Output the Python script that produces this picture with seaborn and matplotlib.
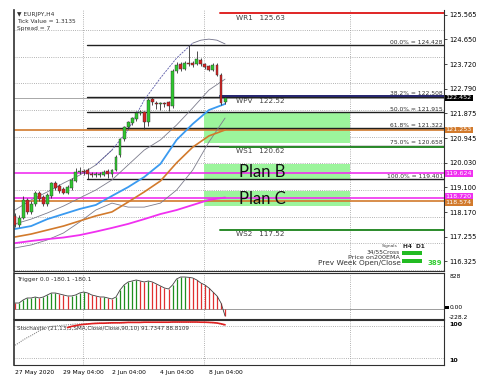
import numpy as np
import pandas as pd
import matplotlib
matplotlib.use("Agg")
import matplotlib.pyplot as plt
import matplotlib.transforms as mtrans
from matplotlib.patches import Rectangle
import seaborn as sns

# ---------------- data ----------------
bar_open = [118.04, 117.70, 117.96, 118.64, 118.19, 118.49, 118.90, 118.75, 118.49, 118.78,
            119.27, 119.16, 119.04, 118.90, 119.08, 119.34, 119.68, 119.72, 119.75, 119.60,
            119.57, 119.57, 119.57, 119.72, 119.60, 119.75, 120.31, 120.91, 121.35, 121.50,
            121.65, 121.88, 121.91, 121.54, 122.40, 122.25, 122.21, 122.25, 122.29, 122.14,
            123.48, 123.74, 123.55, 123.78, 123.78, 123.74, 123.89, 123.74, 123.66, 123.52,
            123.70, 123.33, 122.29]
bar_close = [117.70, 117.96, 118.64, 118.19, 118.49, 118.90, 118.67, 118.49, 118.82, 119.27,
             119.08, 118.97, 118.90, 119.12, 119.38, 119.68, 119.72, 119.68, 119.60, 119.57,
             119.58, 119.60, 119.68, 119.60, 119.75, 120.24, 120.91, 121.35, 121.54, 121.69,
             121.88, 121.91, 121.54, 122.36, 122.29, 122.21, 122.25, 122.21, 122.14, 123.48,
             123.70, 123.55, 123.78, 123.74, 123.70, 123.93, 123.74, 123.63, 123.52, 123.70,
             123.33, 122.25, 122.452]
bar_high = [118.15, 118.05, 118.78, 118.72, 118.58, 118.98, 118.96, 118.80, 118.88, 119.32,
            119.35, 119.24, 119.10, 119.18, 119.45, 119.82, 119.85, 119.80, 119.82, 119.68,
            119.66, 119.68, 119.74, 119.78, 119.80, 120.30, 120.95, 121.40, 121.60, 121.75,
            121.95, 122.00, 121.98, 122.45, 122.50, 122.35, 122.32, 122.30, 122.35, 123.55,
            123.80, 123.82, 123.85, 124.428, 123.85, 124.22, 123.95, 123.78, 123.70, 123.76,
            123.75, 123.40, 122.52]
bar_low = [117.62, 117.62, 117.92, 118.10, 118.12, 118.42, 118.60, 118.40, 118.42, 118.72,
           119.00, 118.90, 118.84, 118.85, 119.02, 119.30, 119.60, 119.55, 119.401, 119.48,
           119.50, 119.50, 119.52, 119.45, 119.50, 119.70, 120.25, 120.85, 121.30, 121.45,
           121.60, 121.80, 121.30, 121.40, 122.20, 122.05, 122.00, 122.10, 121.95, 122.06,
           123.40, 123.48, 123.50, 123.65, 123.60, 123.70, 123.65, 123.55, 123.45, 123.48,
           123.28, 122.20, 122.22]

ind_bars = [0, 4, 8, 12, 16, 20, 24, 28, 32, 36, 40, 44, 48, 52]
ema_blue = [117.54, 117.65, 117.91, 118.10, 118.29, 118.44, 118.78, 119.11, 119.49, 119.98,
            120.88, 121.48, 122.00, 122.23]
ema_orange = [117.24, 117.35, 117.50, 117.65, 117.84, 118.03, 118.18, 118.55, 118.93, 119.34,
              120.02, 120.61, 121.03, 121.253]
ema_magenta = [117.01, 117.09, 117.16, 117.22, 117.31, 117.44, 117.58, 117.73, 117.91, 118.10,
               118.25, 118.44, 118.63, 118.720]
bb_mid = [117.73, 117.91, 118.14, 118.40, 118.70, 119.00, 119.38, 119.94, 120.50, 120.88,
          121.44, 122.08, 122.75, 123.16]
bb_low = [116.83, 116.94, 117.13, 117.39, 117.80, 118.25, 118.51, 118.36, 118.36, 118.51,
          119.00, 119.75, 120.80, 121.70]
upper_a_bars = [0, 4, 8, 12, 16, 20, 24]
upper_a = [118.25, 118.63, 118.93, 119.26, 119.56, 119.94, 120.50]
upper_b_bars = [20, 24, 28, 32, 36, 40, 44]
upper_b = [119.94, 120.50, 121.25, 122.38, 123.20, 123.95, 124.51]
upper_c_bars = [44, 46, 48, 50, 52]
upper_c = [124.51, 124.62, 124.66, 124.62, 124.48]

fib_levels = [124.428, 122.508, 121.915, 121.322, 120.658, 119.401]
fib_labels = ["00.0% = 124.428", "38.2% = 122.508", "50.0% = 121.915",
              "61.8% = 121.322", "75.0% = 120.658", "100.0% = 119.401"]
pivot_names = ["WR1", "WPV", "WS1", "WS2"]
pivot_levels = [125.63, 122.52, 120.62, 117.52]
full_lines = [121.253, 119.624, 118.720, 118.574]
full_line_names = ["orange", "magenta", "magenta", "orange"]
current_price = 122.452
zone_names = ["", "Plan B", "Plan C"]
zone_high = [121.915, 119.98, 118.96]
zone_low = [120.76, 119.38, 118.40]

price_ticks = [125.565, 124.650, 123.720, 122.790, 121.875, 120.945, 120.030,
               119.100, 118.170, 117.255, 116.325]

trigger = [155, 155, 233, 285, 285, 311, 285, 311, 363, 414, 414, 389, 363, 337, 337, 363,
           414, 440, 414, 363, 337, 311, 311, 285, 259, 311, 492, 622, 699, 725, 751, 725,
           699, 725, 699, 648, 596, 544, 518, 622, 777, 828, 828, 820, 803, 751, 673, 622,
           544, 440, 337, 155, -180.1]

stoch_main = [42, 48, 55, 61, 66, 72, 78, 82, 86, 89, 90, 91, 92, 93, 94, 95, 95, 96, 96, 96,
              97, 97, 97, 97, 97, 98, 98, 98, 99, 99, 99, 99, 99, 99, 99, 99, 99, 99, 99, 99,
              99, 99, 99, 99, 99, 99, 99, 99, 99, 98, 97, 95, 91.7]
stoch_sig_start = 13
stoch_sig = [86, 89, 91, 93, 94, 95, 96, 96.5, 97, 97, 97.5, 98, 98, 98, 98.5, 99, 99, 99,
             99, 99.5, 99.5, 99.5, 99.5, 99.5, 99.5, 99.5, 100, 100, 100, 100, 100, 100,
             100, 99.5, 99.5, 99, 98.5, 97.5, 95.5, 93]

date_ticks = [0, 12, 24, 36, 48]
date_labels = ["27 May 2020", "29 May 04:00", "2 Jun 04:00", "4 Jun 04:00", "8 Jun 04:00"]

# ---------------- style ----------------
sns.set_style("white")
plt.rcParams["font.family"] = ["DejaVu Sans"]

W, H = 480, 381
fig = plt.figure(figsize=(4.8, 3.81), dpi=100)
fig.patch.set_facecolor("white")


def rect(x0, y0, x1, y1):
    return [x0 / W, (H - y1) / H, (x1 - x0) / W, (y1 - y0) / H]


ax = fig.add_axes(rect(14, 10, 444, 271))
axt = fig.add_axes(rect(14, 273, 444, 319))
axs = fig.add_axes(rect(14, 320, 444, 365))

XMIN, XMAX = -0.25, 106.2
grid_x = [16.8, 46.8, 82.9]
GRID = dict(color="#9a9a9a", lw=0.6, ls=(0, (1, 1.6)))
TXT = "#303030"
FS = 4.8

for a in (ax, axt, axs):
    a.set_xlim(XMIN, XMAX)
    a.set_facecolor("white")
    for s in a.spines.values():
        s.set_color("#303030")
        s.set_linewidth(0.8)
    a.spines["left"].set_linewidth(1.2)
    for gx in grid_x:
        a.axvline(gx, zorder=0.5, **GRID)
ax.spines["top"].set_visible(False)


def sline(a, x, y, **kw):
    sns.lineplot(x=x, y=y, ax=a, sort=False, estimator=None, legend=False, **kw)


# ---------------- main panel ----------------
ax.set_ylim(115.964, 125.752)
for p in range(116, 126):
    ax.axhline(p, zorder=0.5, **GRID)

# zones
for name, hi, lo in zip(zone_names, zone_high, zone_low):
    ax.add_patch(Rectangle((46.8, lo), 82.9 - 46.8, hi - lo, facecolor="#9cf59c",
                           edgecolor="none", zorder=0.8))
    if name:
        ax.text(55.4, (hi + lo) / 2, name, fontsize=12, family=["Lato", "DejaVu Sans"],
                color="#111111", va="center", ha="left", zorder=6)

# current price line
sline(ax, [XMIN, XMAX], [current_price, current_price], color="#a8a8a8", linewidth=0.7)

# full width lines
fcol = {"orange": "#d27a2c", "magenta": "#f030f0"}
for lvl, nm in zip(full_lines, full_line_names):
    sline(ax, [XMIN, XMAX], [lvl, lvl], color=fcol[nm], linewidth=1.2)

# fib lines
for lvl, lab in zip(fib_levels, fib_labels):
    sline(ax, [17.8, XMAX], [lvl, lvl], color="#202020", linewidth=1.0)
    ax.text(105.9, lvl + 0.02, lab, fontsize=4.3, color=TXT, ha="right", va="bottom", zorder=6)

# pivots
pcol = {"WR1": "#e02525", "WPV": "#23236e", "WS1": "#2a8a2a", "WS2": "#2a8a2a"}
for nm, lvl in zip(pivot_names, pivot_levels):
    sline(ax, [50.7, XMAX], [lvl, lvl], color=pcol[nm], linewidth=1.4)
    ax.text(54.7, lvl - 0.06, f"{nm}   {lvl:.2f}", fontsize=5.2, color="#404040",
            ha="left", va="top", zorder=6)

# indicator lines
sline(ax, ind_bars, bb_low, color="#7c7c8c", linewidth=0.6)
sline(ax, ind_bars, bb_mid, color="#7c7c8c", linewidth=0.6)
sline(ax, upper_a_bars, upper_a, color="#7c7c8c", linewidth=0.6)
sline(ax, upper_b_bars, upper_b, color="#5a5aa8", linewidth=0.6, linestyle=(0, (2.5, 1.2)))
sline(ax, upper_c_bars, upper_c, color="#707088", linewidth=0.6)
sline(ax, ind_bars, ema_magenta, color="#f030f0", linewidth=1.3)
sline(ax, ind_bars, ema_orange, color="#d27a2c", linewidth=1.2)
sline(ax, ind_bars, ema_blue, color="#3a9af0", linewidth=1.3)

# candles
df = pd.DataFrame({"o": bar_open, "h": bar_high, "l": bar_low, "c": bar_close})
df["i"] = np.arange(len(df))
up = df["c"] >= df["o"]
ax.vlines(df["i"], df["l"], df["h"], color="#303030", linewidth=0.6, zorder=3)
body_lo = np.minimum(df["o"], df["c"])
body_h = np.maximum(np.abs(df["c"] - df["o"]), 0.015)
ax.bar(df["i"], body_h, bottom=body_lo, width=0.72,
       color=np.where(up, "#2fc82f", "#d82222"), edgecolor="#303030", linewidth=0.3, zorder=4)

# right price axis
ax.yaxis.tick_right()
ax.set_yticks(price_ticks)
ax.set_yticklabels([f"{v:.3f}" for v in price_ticks])
ax.tick_params(axis="y", length=2, width=0.5, pad=1.5, labelsize=FS, colors="black")
ax.set_xticks([])

blend = mtrans.blended_transform_factory(ax.transAxes, ax.transData)
label_nudge = {121.253: 0.0, 119.624: 0.0, 118.720: 0.04, 118.574: -0.05}
boxes = [(current_price, "#000000", 0.0)] + [
    (l, fcol[n], label_nudge[l]) for l, n in zip(full_lines, full_line_names)]
for lvl, colr, dy in boxes:
    ax.text(1.004, lvl + dy, f"{lvl:.3f}", transform=blend, fontsize=4.6, color="white",
            va="center", ha="left", bbox=dict(boxstyle="square,pad=0.15", fc=colr, ec="none"),
            zorder=10, clip_on=False)

# header text
for k, t in enumerate(["\u25bc EURJPY,H4", "Tick Value = 1.3135", "Spread = 7"]):
    ax.text(0.007, 0.981 - k * 0.025, t, transform=ax.transAxes, fontsize=4.2, color=TXT,
            va="center", ha="left")

# signals box
ax.text(92.8, 116.90, "Signals", fontsize=3.2, color="#444444", ha="center", va="center")
ax.text(96.0, 116.87, "H4  D1", fontsize=4.2, color="#222222", weight="bold", ha="left", va="center")
ax.text(95.3, 116.68, "34/55Cross", fontsize=4.2, color="#333333", ha="right", va="center")
ax.text(95.3, 116.47, "Price on200EMA", fontsize=4.6, color="#333333", ha="right", va="center")
ax.text(95.5, 116.26, "Prev Week Open/Close", fontsize=5.3, color="#333333", ha="right", va="center")
ax.add_patch(Rectangle((95.8, 116.57), 4.9, 0.15, facecolor="#22bb22", edgecolor="none", zorder=5))
ax.add_patch(Rectangle((95.8, 116.27), 4.9, 0.13, facecolor="#22bb22", edgecolor="none", zorder=5))
ax.text(102.0, 116.26, "389", fontsize=5.0, color="#33cc33", ha="left", va="center", weight="bold")

# ---------------- trigger panel ----------------
axt.set_ylim(-258.75, 931.5)
axt.axhline(0, color="#8c8c8c", lw=0.6, zorder=1)
tr = np.array(trigger, dtype=float)
tcol = ["#e03030"] + ["#1f8f1f" if tr[k] >= tr[k - 1] else "#e03030" for k in range(1, len(tr))]
axt.vlines(np.arange(len(tr)), 0, tr, colors=tcol, linewidth=0.9, zorder=2)
sline(axt, np.arange(len(tr)), tr, color="#404040", linewidth=0.6)
axt.set_yticks([])
axt.set_xticks([])
tb = mtrans.blended_transform_factory(axt.transAxes, axt.transData)
for val, lab in [(828, "828"), (40, "0.00"), (-215, "-228.2")]:
    axt.text(1.012, val, lab, transform=tb, fontsize=4.3, color="black", ha="left",
             va="center", clip_on=False)
axt.add_patch(Rectangle((1.002, 0), 0.009, 80, transform=tb, facecolor="black",
                        edgecolor="none", clip_on=False, zorder=10))
axt.text(0.007, 0.86, "Trigger 0.0 -180.1 -180.1", transform=axt.transAxes, fontsize=4.3,
         color=TXT, va="center", ha="left")

# ---------------- stochastic panel ----------------
axs.set_ylim(-7.5, 105)
axs.axhline(90, zorder=0.5, **GRID)
axs.axhline(10, zorder=0.5, **GRID)
sline(axs, np.arange(len(stoch_main)), stoch_main, color="#8a8a8a", linewidth=0.8,
      linestyle=(0, (1, 1)))
sline(axs, np.arange(stoch_sig_start, stoch_sig_start + len(stoch_sig)), stoch_sig,
      color="#e02020", linewidth=1.2)
axs.set_yticks([])
sb = mtrans.blended_transform_factory(axs.transAxes, axs.transData)
axs.text(1.012, 95, "100", transform=sb, fontsize=4.6, weight="bold", color="black",
         ha="left", va="center", clip_on=False)
axs.text(1.012, 5, "10", transform=sb, fontsize=4.6, weight="bold", color="black",
         ha="left", va="center", clip_on=False)
axs.text(0.007, 0.82, "Stochastic (21,13,5,SMA,Close/Close,90,10) 91.7347 88.8109",
         transform=axs.transAxes, fontsize=4.1, color=TXT, va="center", ha="left", zorder=1)
axs.set_xticks(date_ticks)
axs.set_xticklabels(date_labels)
axs.tick_params(axis="x", length=2, width=0.5, pad=1.5, labelsize=4.3, colors="black")
for lbl in axs.get_xticklabels():
    lbl.set_ha("left")

fig.savefig("out.png", dpi=100, facecolor="white")
